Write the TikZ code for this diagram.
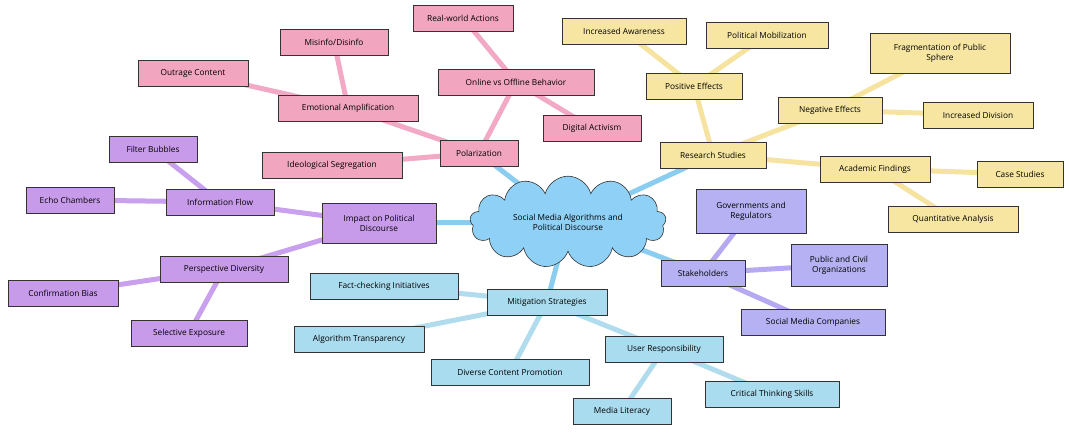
\documentclass[tikz,border=0pt]{standalone}
\usepackage{fontspec}
\setmainfont{Open Sans}
\usetikzlibrary{shapes.symbols,backgrounds}
\definecolor{pk}{HTML}{F2A5BE}\definecolor{pkl}{HTML}{F3A9C6}
\definecolor{yl}{HTML}{F7E6A2}\definecolor{yll}{HTML}{F7E3A0}
\definecolor{pu}{HTML}{C89BEA}\definecolor{pul}{HTML}{C9A0EE}
\definecolor{lv}{HTML}{B5B1F2}\definecolor{lvl}{HTML}{B7A8F2}
\definecolor{bl}{HTML}{A9DCEF}\definecolor{bll}{HTML}{B0DCEE}
\definecolor{cb}{HTML}{8FD1F6}\definecolor{cbl}{HTML}{8ACDF0}
\begin{document}
\begin{tikzpicture}[x=1pt,y=-1pt,
  box/.style={draw=black!80,line width=0.6pt,font=\fontsize{8.3}{10}\selectfont,inner sep=0pt,minimum height=26pt,align=center},
  e/.style={line width=5pt,line cap=round}]
\useasboundingbox (0,0) rectangle (1069,435);
% nodes
\node[draw=black!80,line width=0.6pt,fill=cb,cloud,cloud puffs=13,aspect=2.6,minimum width=196pt,minimum height=82pt,font=\fontsize{8.3}{10}\selectfont,align=center] (c) at (568,222) {Social Media Algorithms and\\Political Discourse};
\begin{scope}[every node/.append style={box,fill=pk}]
\node[minimum width=78pt] (pol) at (479,153) {Polarization};
\node[minimum width=140pt] (ideo) at (332,165) {Ideological Segregation};
\node[minimum width=140pt] (emo) at (348,108) {Emotional Amplification};
\node[minimum width=110pt] (out) at (193,73) {Outrage Content};
\node[minimum width=108pt] (mis) at (334,42) {Misinfo/Disinfo};
\node[minimum width=156pt] (onl) at (516,82) {Online vs Offline Behavior};
\node[minimum width=100pt] (real) at (463,18) {Real-world Actions};
\node[minimum width=98pt] (dig) at (592,128) {Digital Activism};
\end{scope}
\begin{scope}[every node/.append style={box,fill=yl}]
\node[minimum width=106pt] (res) at (713,155) {Research Studies};
\node[minimum width=96pt] (pos) at (694,86) {Positive Effects};
\node[minimum width=124pt] (aw) at (624,31) {Increased Awareness};
\node[minimum width=122pt] (mob) at (767,35) {Political Mobilization};
\node[minimum width=104pt] (neg) at (830,110) {Negative Effects};
\node[minimum width=140pt,minimum height=40pt] (frag) at (940,53) {Fragmentation of Public\\Sphere};
\node[minimum width=110pt] (div) at (978,115) {Increased Division};
\node[minimum width=110pt] (acad) at (875,169) {Academic Findings};
\node[minimum width=86pt] (case) at (1020,174) {Case Studies};
\node[minimum width=130pt] (quant) at (953,219) {Quantitative Analysis};
\end{scope}
\begin{scope}[every node/.append style={box,fill=pu}]
\node[minimum width=114pt,minimum height=40pt] (imp) at (379,223) {Impact on Political\\Discourse};
\node[minimum width=108pt] (inf) at (220,202) {Information Flow};
\node[minimum width=88pt] (fil) at (153,149) {Filter Bubbles};
\node[minimum width=88pt] (echo) at (70,200) {Echo Chambers};
\node[minimum width=128pt] (per) at (224,269) {Perspective Diversity};
\node[minimum width=110pt] (conf) at (63,293) {Confirmation Bias};
\node[minimum width=116pt] (sel) at (189,333) {Selective Exposure};
\end{scope}
\begin{scope}[every node/.append style={box,fill=lv}]
\node[minimum width=84pt] (st) at (703,273) {Stakeholders};
\node[minimum width=110pt,minimum height=44pt] (gov) at (751,211) {Governments and\\Regulators};
\node[minimum width=96pt,minimum height=42pt] (pub) at (839,265) {Public and Civil\\Organizations};
\node[minimum width=144pt] (smc) at (813,322) {Social Media Companies};
\end{scope}
\begin{scope}[every node/.append style={box,fill=bl}]
\node[minimum width=120pt] (mit) at (547,302) {Mitigation Strategies};
\node[minimum width=148pt] (fact) at (384,286) {Fact-checking Initiatives};
\node[minimum width=130pt] (alg) at (359,339) {Algorithm Transparency};
\node[minimum width=158pt] (divc) at (510,372) {Diverse Content Promotion};
\node[minimum width=118pt] (user) at (664,349) {User Responsibility};
\node[minimum width=134pt] (crit) at (772,394) {Critical Thinking Skills};
\node[minimum width=98pt] (med) at (622,411) {Media Literacy};
\end{scope}
% edges
\begin{scope}[on background layer]
\fill[white] (0,0) rectangle (1069,435);
\draw[e,cbl] (c.center) -- (pol.center);
\draw[e,cbl] (c.center) -- (res.center);
\draw[e,cbl] (c.center) -- (imp.center);
\draw[e,cbl] (c.center) -- (st.center);
\draw[e,cbl] (c.center) -- (mit.center);
\draw[e,pkl] (pol.center) -- (ideo.center);
\draw[e,pkl] (pol.center) -- (emo.center);
\draw[e,pkl] (emo.center) -- (out.center);
\draw[e,pkl] (emo.center) -- (mis.center);
\draw[e,pkl] (pol.center) -- (onl.center);
\draw[e,pkl] (onl.center) -- (real.center);
\draw[e,pkl] (onl.center) -- (dig.center);
\draw[e,yll] (res.center) -- (pos.center);
\draw[e,yll] (pos.center) -- (aw.center);
\draw[e,yll] (pos.center) -- (mob.center);
\draw[e,yll] (res.center) -- (neg.center);
\draw[e,yll] (neg.center) -- (frag.center);
\draw[e,yll] (neg.center) -- (div.center);
\draw[e,yll] (res.center) -- (acad.center);
\draw[e,yll] (acad.center) -- (case.center);
\draw[e,yll] (acad.center) -- (quant.center);
\draw[e,pul] (imp.center) -- (inf.center);
\draw[e,pul] (inf.center) -- (fil.center);
\draw[e,pul] (inf.center) -- (echo.center);
\draw[e,pul] (imp.center) -- (per.center);
\draw[e,pul] (per.center) -- (conf.center);
\draw[e,pul] (per.center) -- (sel.center);
\draw[e,lvl] (st.center) -- (gov.center);
\draw[e,lvl] (st.center) -- (pub.center);
\draw[e,lvl] (st.center) -- (smc.center);
\draw[e,bll] (mit.center) -- (fact.center);
\draw[e,bll] (mit.center) -- (alg.center);
\draw[e,bll] (mit.center) -- (divc.center);
\draw[e,bll] (mit.center) -- (user.center);
\draw[e,bll] (user.center) -- (crit.center);
\draw[e,bll] (user.center) -- (med.center);
\end{scope}
\end{tikzpicture}
\end{document}
